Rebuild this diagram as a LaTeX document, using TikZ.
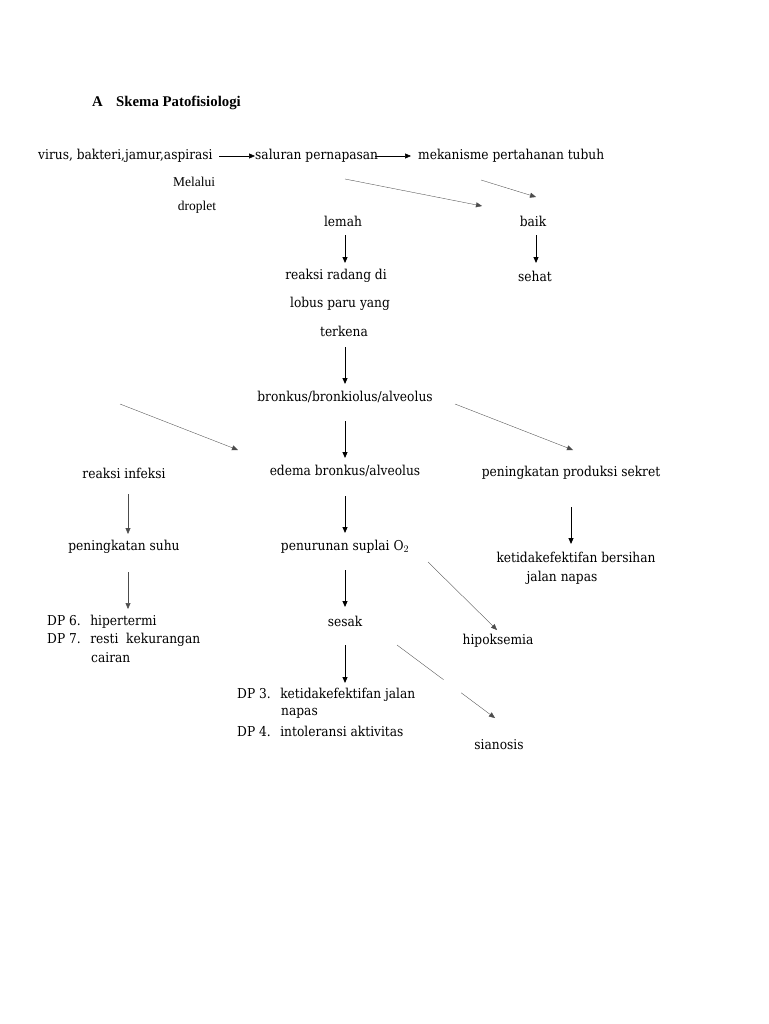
\documentclass[tikz,border=0pt]{standalone}
\usepackage{fontspec}
\setmainfont{Liberation Serif}
\newfontfamily\bodyf{DejaVu Serif Condensed}
\usetikzlibrary{arrows.meta}
\begin{document}
\begin{tikzpicture}[x=1pt,y=-1pt,
 t/.style={inner sep=0pt,font=\bodyf\fontsize{13.6}{15}\selectfont},
 tl/.style={t,anchor=west},
 ar/.style={-{Triangle[length=6pt,width=5pt]},line width=0.9pt},
 th/.style={-{Triangle[length=6pt,width=5pt]},line width=0.35pt,draw=black!70}]
\path[fill=white] (0,0) rectangle (768,1024);
\node[anchor=west,inner sep=0pt,font=\bfseries\fontsize{14.8}{17}\selectfont] (title) at (92,103) {A\hspace{0.9em}Skema Patofisiologi};
\node[tl] (virus) at (38,156) {virus, bakteri,jamur,aspirasi};
\node[tl] (sal) at (255,156) {saluran pernapasan};
\node[tl] (mek) at (418,156) {mekanisme pertahanan tubuh};
\node[inner sep=0pt,font=\fontsize{13.5}{15}\selectfont] (mel) at (194,182) {Melalui};
\node[inner sep=0pt,font=\fontsize{13.5}{15}\selectfont] (dro) at (197,207) {droplet};
\node[t] (lemah) at (343,221) {lemah};
\node[t] (baik) at (533,221) {baik};
\node[t] (sehat) at (535,276) {sehat};
\node[t] (rr1) at (336,276) {reaksi radang di};
\node[t] (rr2) at (340,304) {lobus paru yang};
\node[t] (rr3) at (344,331) {terkena};
\node[t] (bron) at (345,397) {bronkus/bronkiolus/alveolus};
\node[t] (rinf) at (124,473) {reaksi infeksi};
\node[t] (edema) at (345,471) {edema bronkus/alveolus};
\node[t] (pps) at (571,473) {peningkatan produksi sekret};
\node[t] (psuhu) at (124,547) {peningkatan suhu};
\node[t] (pO) at (345,547) {penurunan suplai O$_2$};
\node[t] (kb1) at (576,557) {ketidakefektifan bersihan};
\node[t] (kb2) at (562,578) {jalan napas};
\node[tl] (dp6) at (47,622) {DP 6.\hspace{0.7em}hipertermi};
\node[tl] (dp7) at (47,640) {DP 7.\hspace{0.7em}resti \ kekurangan};
\node[tl] (cai) at (91,658) {cairan};
\node[t] (sesak) at (345,621) {sesak};
\node[t] (hipo) at (498,641) {hipoksemia};
\node[tl] (dp3) at (237,695) {DP 3.\hspace{0.7em}ketidakefektifan jalan};
\node[tl] (nap) at (281,713) {napas};
\node[tl] (dp4) at (237,731) {DP 4.\hspace{0.7em}intoleransi aktivitas};
\node[t] (sia) at (499,745) {sianosis};
% coordinates
\coordinate (a1) at (345,179); \coordinate (a2) at (482,206);
\coordinate (b1) at (481,180); \coordinate (b2) at (536,197);
\coordinate (c1) at (120,404); \coordinate (c2) at (238,450);
\coordinate (d1) at (455,404); \coordinate (d2) at (573,450);
\coordinate (e1) at (428,562); \coordinate (e2) at (497,630);
\coordinate (f1) at (397,645); \coordinate (f2) at (495,718);
\draw[ar,line width=0.6pt] (219,156) -- (255,156);
\draw[ar,line width=0.6pt] (375,156) -- (411,156);
\draw[th] (a1) -- (a2);
\draw[th] (b1) -- (b2);
\draw[ar] (345,235) -- (345,263);
\draw[ar] (536,235) -- (536,263);
\draw[ar] (345,347) -- (345,384);
\draw[th] (c1) -- (c2);
\draw[th] (d1) -- (d2);
\draw[ar] (345,421) -- (345,458);
\draw[th,line width=0.4pt] (128,494) -- (128,534);
\draw[ar] (345,496) -- (345,533);
\draw[ar] (571,507) -- (571,544);
\draw[th,line width=0.5pt] (128,572) -- (128,609);
\draw[ar] (345,570) -- (345,607);
\draw[th] (e1) -- (e2);
\draw[ar] (345,645) -- (345,683);
\draw[th,dash pattern=on 58pt off 22pt] (f1) -- (f2);
\end{tikzpicture}
\end{document}
